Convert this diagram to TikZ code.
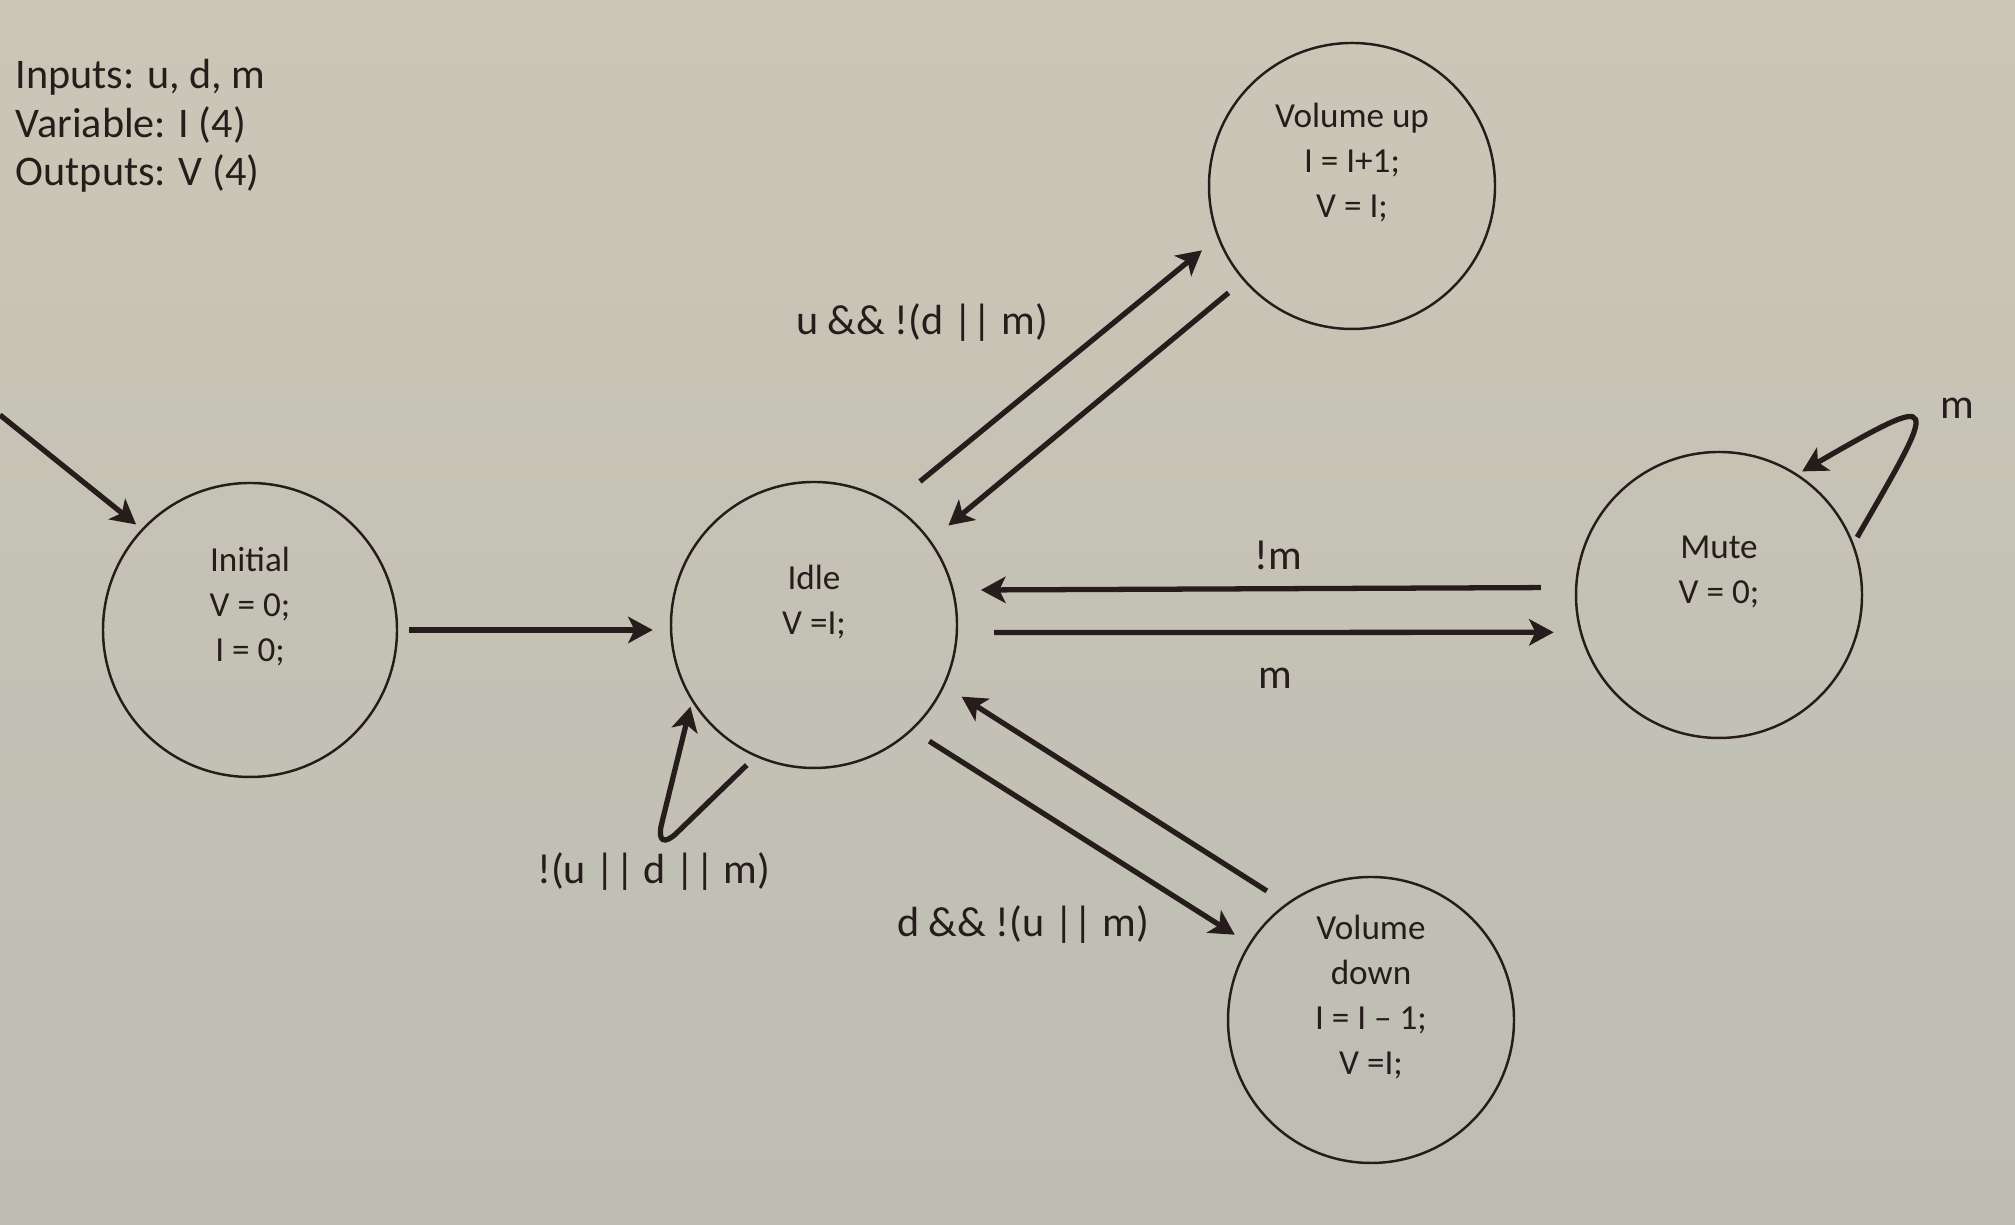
\documentclass[tikz,border=0pt]{standalone}
\usepackage{fontspec}
\setmainfont{Carlito}
\usetikzlibrary{arrows.meta}
\definecolor{screen}{RGB}{203,199,183}
\definecolor{screenlow}{RGB}{189,189,179}
\definecolor{ink}{RGB}{38,28,28}

\begin{document}
\begin{tikzpicture}[
    state/.style={draw=ink, circle, line width=0.7pt, minimum size=2.86cm, inner sep=0pt},
    statetxt/.style={align=center, text=ink, font=\fontsize{10}{12.8}\selectfont, yshift=2.3mm},
    trans/.style={draw=ink, line width=1.5pt, -{Stealth[length=7pt,width=7.5pt,inset=1.8pt]}},
    cond/.style={text=ink, font=\fontsize{12}{13.8}\selectfont}]

  % photo of the screen
  \shade[top color=screen, bottom color=screenlow] (0,0) rectangle (20.15,12.25);
  \useasboundingbox (0,0) rectangle (20.15,12.25);

  % header text
  \node[cond, align=left, anchor=north west, inner sep=0pt] (header) at (0.15,11.66) {Inputs: u, d, m\\Variable: I (4)\\Outputs: V (4)};

  % states
  \node[state, minimum size=2.94cm, label={[statetxt]center:{Initial\\V = 0;\\I = 0;}}] (initial) at (2.50,5.95) {};
  \node[state, label={[statetxt]center:{Idle\\V =I;}}] (idle) at (8.14,6.00) {};
  \node[state, label={[statetxt]center:{Volume up\\I = I+1;\\V = I;}}] (volup) at (13.52,10.39) {};
  \node[state, label={[statetxt]center:{Mute\\V = 0;}}] (mute) at (17.19,6.30) {};
  \node[state, label={[statetxt]center:{Volume\\down\\I = I – 1;\\V =I;}}] (voldown) at (13.71,2.05) {};

  % start arrow
  \coordinate (entry) at (0,8.10);
  \draw[trans, shorten >=2pt] (entry) -- (initial.137);
  \draw[trans, shorten <=0.11cm, shorten >=0.17cm] (initial.east) -- (initial.east -| idle.west);

  % transitions
  \draw[trans, shorten <=0.355cm, shorten >=0.2cm] (idle.57) -- (volup.201);
  \draw[trans, shorten <=0.19cm, shorten >=0.23cm] (volup.221) -- (idle.36);
  \draw[trans, shorten <=0.34cm, shorten >=0.27cm] (mute.177) -- (idle.14);
  \draw[trans, shorten <=0.36cm, shorten >=0.26cm] (idle.-3) -- (mute.195);
  \draw[trans, shorten <=0.2cm, shorten >=0.165cm] (idle.-47) -- (voldown.148);
  \draw[trans, shorten <=0.23cm, shorten >=0.2cm] (voldown.126) -- (idle.-25);

  % self loops
  \coordinate (idleturn) at (6.54,3.70);
  \draw[trans, rounded corners=9pt, shorten <=3.4pt, shorten >=1.5pt] (idle.246) -- (idleturn) -- (idle.212);
  \draw[trans, shorten <=2pt, shorten >=1.5pt] (mute.21) .. controls +(60:1.7) and +(30:1.7) .. (mute.57);

  % conditions
  \node[cond] (upcond) at (9.22,9.02) {u \&\& !(d || m)};
  \node[cond] (notmcond) at (12.78,6.70) {!m};
  \node[cond] (mcond) at (12.75,5.47) {m};
  \node[cond] (staycond) at (6.54,3.53) {!(u || d || m)};
  \node[cond] (downcond) at (10.23,3.00) {d \&\& !(u || m)};
  \node[cond] (mutecond) at (19.57,8.17) {m};
\end{tikzpicture}
\end{document}
